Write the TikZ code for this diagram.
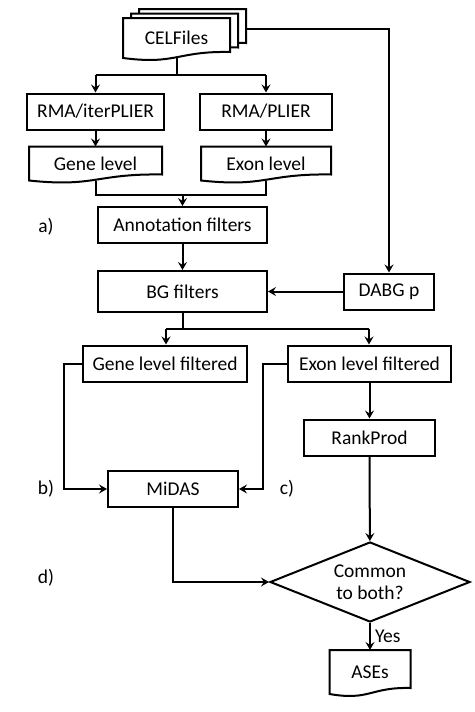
\documentclass[tikz,border=0pt]{standalone}
\usepackage{fontspec}
\setmainfont{Carlito}
\usetikzlibrary{positioning,shapes.geometric,arrows.meta,calc,backgrounds}

% outline of a document shape (wavy bottom) around a node
\newcommand{\docpath}[1]{(#1.south west) -- (#1.north west) -- (#1.north east)
  -- ($(#1.south east)+(0,-6)$) .. controls ($(#1.south)+(0,-7)$) and ($(#1.south)+(0,7)$) .. (#1.south west) -- cycle}

\begin{document}
\begin{tikzpicture}[
        x=1pt, y=-1pt,
        node distance=20pt,
        every node/.style={font=\fontsize{19.5}{22}\selectfont},
        box/.style={draw, rectangle, line width=2pt, minimum height=36pt, inner sep=2pt},
        docbox/.style={rectangle, outer sep=0pt, inner sep=0pt},
        docline/.style={draw, fill=white, line width=2pt, line join=miter},
        decision/.style={draw, diamond, aspect=2.5, line width=2pt, inner sep=0pt, minimum width=200pt, minimum height=80pt, align=center},
        tag/.style={inner sep=0pt},
        >={Stealth[length=8pt,width=9pt,inset=3pt]}
    ]
        \useasboundingbox (0,0) rectangle (474,712);

        % Nodes
        \node (cel) [docbox, minimum width=107pt, minimum height=40pt] at (176.5,38) {CELFiles};
        \node (celmid) [docbox, minimum width=107pt, minimum height=40pt] at ($(cel)+(8,-4.5)$) {};
        \node (celback) [docbox, minimum width=107pt, minimum height=40pt] at ($(cel)+(16,-9)$) {};
        \node (rmaiter) [box, minimum width=137pt] at (95.5,111.5) {RMA/iterPLIER};
        \node (rmaplier) [box, minimum width=132pt, right=34pt of rmaiter] {RMA/PLIER};
        \node (genelvl) [docbox, minimum width=133pt, minimum height=34pt, below=16pt of rmaiter] {Gene level};
        \node (exonlvl) [docbox, minimum width=130pt, minimum height=34pt, below=16pt of rmaplier] {Exon level};
        \node (annot) [box, minimum width=169pt] at (182.5,225) {Annotation filters};
        \node (bgfilt) [box, minimum width=169pt, minimum height=41pt, below=26pt of annot] {BG filters};
        \node (dabg) [box, minimum width=90pt, right=75pt of bgfilt] {DABG p};
        \node (genefilt) [box, minimum width=164pt] at (165,363.5) {Gene level filtered};
        \node (exonfilt) [box, minimum width=163pt, right=39pt of genefilt] {Exon level filtered};
        \node (rankprod) [box, minimum width=131pt, below=36pt of exonfilt] {RankProd};
        \node (midas) [box, minimum width=130pt] at (173,489) {MiDAS};
        \node (common) [decision] at (370,582) {Common\\to both?};
        \node (ases) [docbox, minimum width=81pt, minimum height=44pt, below=27pt of common] {ASEs};

        % Labels
        \node (laba) [tag] at (46,227) {a)};
        \node (labb) [tag] at (46,489) {b)};
        \node (labc) [tag] at (287,489) {c)};
        \node (labd) [tag] at (46,578) {d)};

        % Document outlines
        \begin{scope}[on background layer]
            \path[docline] \docpath{celback};
            \path[docline] \docpath{celmid};
            \path[docline] \docpath{cel};
            \path[docline] \docpath{genelvl};
            \path[docline] \docpath{exonlvl};
            \path[docline] \docpath{ases};
        \end{scope}

        % Arrows
        \begin{scope}[line width=2pt]
            \draw (cel.south) -- ++(0,17) coordinate (split1);
            \draw (rmaiter.north |- split1) -- (rmaplier.north |- split1);
            \draw[->] (rmaiter.north |- split1) -- (rmaiter);
            \draw[->] (rmaplier.north |- split1) -- (rmaplier);
            \draw[->] (rmaiter) -- (genelvl);
            \draw[->] (rmaplier) -- (exonlvl);
            \draw (genelvl.south) -- ++(0,14) coordinate (join1) -| (exonlvl.south);
            \draw[->] (annot.north |- join1) -- (annot);
            \draw[->] (annot) -- (bgfilt);
            \draw[->] (celback.east) -| (dabg);
            \draw[->] (dabg) -- (bgfilt.east |- dabg);
            \draw (bgfilt.south) -- ++(0,16) coordinate (split2);
            \draw (166,0 |- split2) -- (369,0 |- split2);
            \draw[->] (166,0 |- split2) -- (166,0 |- genefilt.north);
            \draw[->] (369,0 |- split2) -- (369,0 |- exonfilt.north);
            \draw[->] (genefilt.west) -- ++(-18,0) |- (midas.west);
            \draw[->] (exonfilt.west) -- ++(-24,0) |- (midas.east);
            \draw[->] (exonfilt) -- (rankprod);
            \draw[->] (rankprod) -- (common);
            \draw[->] (midas.south) |- (common.west);
            \draw[->] (common) -- node[right, tag, xshift=4pt] {Yes} (ases);
        \end{scope}
    \end{tikzpicture}
\end{document}
